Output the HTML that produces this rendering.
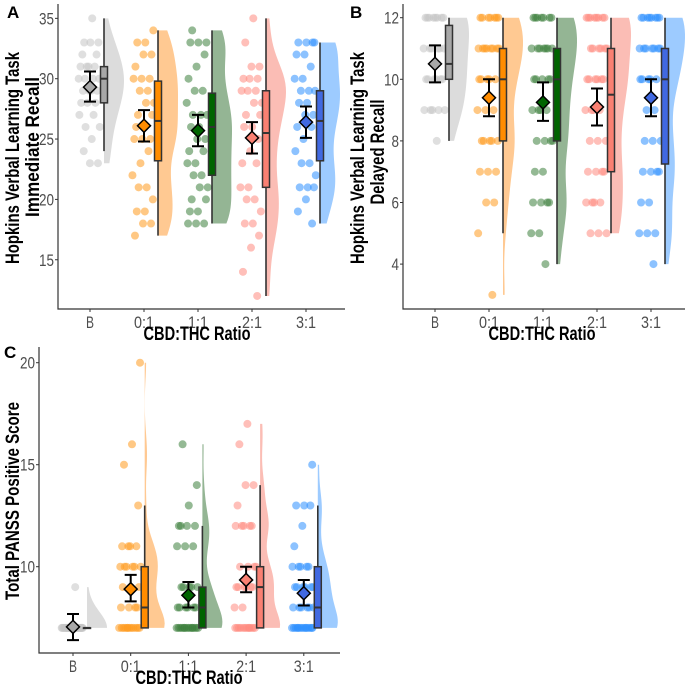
<!DOCTYPE html>
<html><head><meta charset="utf-8"><style>
html,body{margin:0;padding:0;background:#fff;}
svg{display:block;}
text{font-family:"Liberation Sans",sans-serif;}
</style></head><body>
<svg id="fig" width="685" height="689" viewBox="0 0 685 689" xmlns="http://www.w3.org/2000/svg"></svg>
<script>
const categories = ['B','0:1','1:1','2:1','3:1'];
// Panel A: immediate recall
const aPtsB  = [35,33,33,33,32,32,31,31,31,31,30,30,30,30,29,29,29,29,28,28,28,27,27,26,26,25,24,23,23];
const aPts01 = [34,33,33,32,32,31,30,30,30,29,29,28,28,27,27,26,26,25,25,25,24,23,22,21,21,20,19,19,18,18,17];
const aPts11 = [34,33,33,33,32,31,30,29,29,28,27,27,27,26,26,25,25,24,24,23,23,22,22,21,21,20,20,19,19,18,18,18];
const aPts21 = [35,33,31,31,30,30,30,29,29,29,28,28,27,27,26,26,25,24,23,23,21,21,20,20,19,18,18,17,16,14,12];
const aPts31 = [33,33,33,33,32,32,31,30,30,29,29,29,28,28,27,27,26,26,25,24,23,23,22,21,21,21,20,19,18];
const aQ1 = [28,23.2,22,21,23.2], aMed = [30,26.5,26,25.5,26.5], aQ3 = [31,29.8,28.8,29,29];
const aLo = [24,17,18,12,18], aHi = [35,34,34,35,33];
const aMean = [29.3,26.1,25.7,25.1,26.4], aErrLo = [28.1,24.8,24.4,23.8,25.1], aErrHi = [30.6,27.4,27,26.4,27.7];
// Panel B: delayed recall
const bPtsB  = [12,12,12,12,12,12,12,12,11,11,11,11,11,11,10,10,10,10,10,10,9,9,9,9,9,8];
const bPts01 = [12,12,12,12,12,12,12,11,11,11,11,11,11,11,11,10,10,10,10,10,9,9,9,8,8,8,8,8,7,7,7,6,6,5,3];
const bPts11 = [12,12,12,12,12,12,12,11,11,11,11,11,11,11,10,10,10,10,10,9,9,9,9,8,8,8,8,7,7,6,6,6,6,5,5,4];
const bPts21 = [12,12,12,12,12,12,12,12,11,11,11,11,11,11,10,10,10,10,10,10,9,9,9,9,8,8,8,7,7,7,7,6,6,6,6,5,5,5];
const bPts31 = [12,12,12,12,12,12,12,12,11,11,11,11,11,11,11,10,10,10,10,10,9,9,8,8,8,7,7,7,7,6,6,5,5,5,4];
const bQ1 = [10,8,8,7,7.25], bMed = [10.5,10,10,9.5,10], bQ3 = [11.75,11,11,11,11];
const bLo = [8,5,4,5,4], bHi = [12,12,12,12,12];
const bMean = [10.5,9.4,9.25,9.1,9.4], bErrLo = [9.9,8.8,8.65,8.5,8.8], bErrHi = [11.1,10,9.9,9.7,10];
// Panel C: PANSS positive
const cPtsB  = [9,7,7,7,7,7,7,7,7,7,7,7,7,7,7,7,7,7,7,7,7,7,7,7,7,7,7,7,7];
const cPts01 = [20,16,15,13,11,11,11,11,10,10,10,10,10,10,9,9,9,8,8,8,8,7,7,7,7,7,7,7,7,7,7,7,7];
const cPts11 = [16,14,13,12,12,12,12,11,11,11,9,9,9,9,9,8,8,8,8,8,8,7,7,7,7,7,7,7,7,7,7,7,7,7,7];
const cPts21 = [17,16,14,14,13,12,12,12,12,12,10,10,10,10,9,9,9,9,9,9,8,8,7,7,7,7,7,7,7,7,7,7,7,7];
const cPts31 = [15,13,13,13,12,11,10,10,10,10,10,9,9,9,9,9,9,8,8,8,8,8,8,7,7,7,7,7,7,7,7,7,7,7,7,7,7];
const cQ1 = [7,7,7,7,7], cMed = [7,8,8,9,8], cQ3 = [7,10,9,10,10];
const cLo = [7,7,7,7,7], cHi = [7,13,12,14,13];
const cMean = [7.05,8.9,8.6,9.35,8.7], cErrLo = [6.4,8.3,8.0,8.75,8.1], cErrHi = [7.68,9.6,9.25,10,9.35];
const aTicks = [15,20,25,30,35], bTicks = [4,6,8,10,12], cTicks = [10,15,20];

const pointCol = ['#c4c4c4','#ff9a1f','#3d7f3d','#ff8a80','#2e8fff'];
const boxCol = ['#a8a8a8','#ff8c00','#006400','#fa8072','#4169e1'];
const violCol = ['#dcdcdc','#ffc992','#94b594','#fbbdb5','#9dcbff'];
const NS='http://www.w3.org/2000/svg';
const svg=document.getElementById('fig');
function mk(tag,attrs,parent){const e=document.createElementNS(NS,tag);for(const k in attrs)e.setAttribute(k,attrs[k]);(parent||svg).appendChild(e);return e;}

function panel(P){
  const g=mk('g',{});
  
  
  const y=v=>P.y0+(P.v0-v)*P.ppu;
  const x=i=>P.x0+i*P.dx;
  P.groups.forEach((pts,i)=>{
    const cx=x(i), bx=cx+14;
    const gg=mk('g',{},g);
    
    
    const mn=Math.min(...pts), mx=Math.max(...pts), n=60, dens=[];
    for(let k=0;k<=n;k++){const v=mn+(mx-mn)*k/n;let s=0;pts.forEach(p=>{const z=(v-p)/P.bw;s+=Math.exp(-0.5*z*z);});dens.push([v,s]);}
    const dmax=Math.max(...dens.map(d=>d[1]));
    let d='M'+bx+','+y(mn);
    dens.forEach(([v,s])=>{d+=' L'+(bx+s/dmax*P.vw).toFixed(2)+','+y(v).toFixed(2);});
    d+=' L'+bx+','+y(mx)+' Z';
    const vi=mk('path',{d:d,fill:violCol[i],stroke:'none'},gg);
    
    
    pts.forEach((p,k)=>{
      const jx=((((k+1)*7919+i*31)%97)/96-0.5)*22-1;
      const c=mk('circle',{cx:(cx+jx).toFixed(2),cy:y(p),r:4,fill:pointCol[i],'fill-opacity':0.55},gg);
      
      
    });
    const wl=mk('line',{x1:bx,x2:bx,y1:y(P.hi[i]),y2:y(P.lo[i]),stroke:'#333',"stroke-width":1.6},gg);
    
    
    const br=mk('rect',{x:bx-3.5,y:y(P.q3[i]),width:7,height:Math.max(0.5,y(P.q1[i])-y(P.q3[i])),fill:boxCol[i],stroke:'#333',"stroke-width":1.5},gg);
    
    
    const md=mk('line',{x1:bx-3.5,x2:bx+3.5,y1:y(P.med[i]),y2:y(P.med[i]),stroke:'#333',"stroke-width":2},gg);
    
    
    const eb=mk('path',{d:`M${cx},${y(P.eh[i])} L${cx},${y(P.el[i])} M${cx-6},${y(P.eh[i])} L${cx+6},${y(P.eh[i])} M${cx-6},${y(P.el[i])} L${cx+6},${y(P.el[i])}`,stroke:'#000',"stroke-width":2,fill:'none'},gg);
    
    
    const my=y(P.mean[i]);
    const dm=mk('path',{d:`M${cx},${my-6.5} L${cx+6.5},${my} L${cx},${my+6.5} L${cx-6.5},${my} Z`,fill:boxCol[i],stroke:'#000',"stroke-width":1.5},gg);
    
    
  });
  const ax=mk('path',{d:`M${P.ax},${P.top} L${P.ax},${P.bot} L${P.right},${P.bot}`,stroke:'#333',"stroke-width":1.2,fill:'none'},g);
  
  
  P.ticks.forEach(t=>{
    mk('line',{x1:P.ax-3,x2:P.ax,y1:y(t),y2:y(t),stroke:'#333'},g);
    const s=String(t);
    const tt=mk('text',{x:P.ax-4,y:y(t)+6,'text-anchor':'end','font-size':17,fill:'#4d4d4d',textLength:s.length*7.5,lengthAdjust:'spacingAndGlyphs'},g);
    tt.textContent=t;
    
    
  });
  categories.forEach((c,i)=>{
    mk('line',{x1:x(i),x2:x(i),y1:P.bot,y2:P.bot+3,stroke:'#333'},g);
    const tt=mk('text',{x:x(i),y:P.bot+19,'text-anchor':'middle','font-size':17,fill:'#4d4d4d',textLength:c.length===1?8:20,lengthAdjust:'spacingAndGlyphs'},g);
    tt.textContent=c;
    
    
  });
  const xt=mk('text',{x:P.xtX,y:P.bot+31,'text-anchor':'middle','font-size':19,'font-weight':'bold',fill:'#000',textLength:107,lengthAdjust:'spacingAndGlyphs'},g);
  xt.textContent='CBD:THC Ratio';
  
  
  P.ytitle.forEach(l=>{
    const t=mk('text',{x:0,y:0,transform:`translate(${l.x},${l.c}) rotate(-90)`,'text-anchor':'middle','font-size':19,'font-weight':'bold',fill:'#000',textLength:l.len,lengthAdjust:'spacingAndGlyphs'},g);
    t.textContent=l.t;
    
    
  });
  const pl=mk('text',{x:P.lab[0],y:P.lab[1],'font-size':17,'font-weight':'bold',fill:'#000'},g);
  pl.textContent=P.label;
  
  
}

panel({name:'panel-a-immediate-recall',label:'A',lab:[7,18],groups:[aPtsB,aPts01,aPts11,aPts21,aPts31],
  q1:aQ1,med:aMed,q3:aQ3,lo:aLo,hi:aHi,mean:aMean,el:aErrLo,eh:aErrHi,ticks:aTicks,
  y0:78.7,v0:30,ppu:12.07,x0:90,dx:54,bw:1.6,vw:20,ax:58,top:4,bot:309,right:345,xtX:197,
  ytitle:[{t:'Hopkins Verbal Learning Task',x:19,c:158,len:212},{t:'Immediate Recall',x:39,c:147,len:140}]});
panel({name:'panel-b-delayed-recall',label:'B',lab:[350,18],groups:[bPtsB,bPts01,bPts11,bPts21,bPts31],
  q1:bQ1,med:bMed,q3:bQ3,lo:bLo,hi:bHi,mean:bMean,el:bErrLo,eh:bErrHi,ticks:bTicks,
  y0:79.3,v0:10,ppu:30.8,x0:435,dx:54,bw:0.7,vw:20,ax:403,top:4,bot:309,right:685,xtX:542,
  ytitle:[{t:'Hopkins Verbal Learning Task',x:364,c:158,len:212},{t:'Delayed Recall',x:384,c:152,len:105}]});
panel({name:'panel-c-panss-positive',label:'C',lab:[4,358],groups:[cPtsB,cPts01,cPts11,cPts21,cPts31],
  q1:cQ1,med:cMed,q3:cQ3,lo:cLo,hi:cHi,mean:cMean,el:cErrLo,eh:cErrHi,ticks:cTicks,
  y0:566.7,v0:10,ppu:20.4,x0:73,dx:57.7,bw:0.8,vw:20,ax:39,top:347,bot:653,right:340,xtX:189,
  ytitle:[{t:'Total PANSS Positive Score',x:19,c:501,len:198}]});
</script>
</body></html>
